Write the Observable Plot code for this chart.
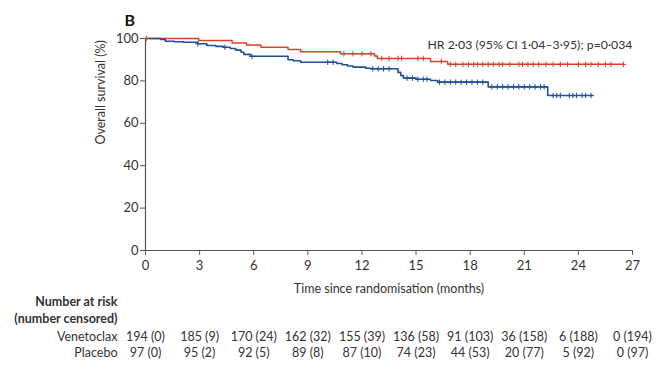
<!DOCTYPE html>
<html>
<head>
<meta charset="utf-8">
<script src="https://cdn.jsdelivr.net/npm/d3@7"></script>
<script src="https://cdn.jsdelivr.net/npm/@observablehq/plot@0.6"></script>
<style>
  html, body { margin: 0; padding: 0; background: #fff; }
  #chart svg { display: block; }
</style>
</head>
<body>
<div id="chart"></div>
<script>
// Kaplan-Meier step data (time in months, overall survival %)
const venTime = [0, 0.83, 1.1, 1.6, 2.1, 2.9, 3.4, 3.9, 4.3, 4.7, 5.0, 5.3, 5.45, 5.8, 7.9, 8.2, 8.6, 10.6, 10.9, 11.2, 11.5, 12.2, 12.5, 14.0, 14.15, 14.3, 15.0, 15.8, 16.2, 19.0, 22.3, 24.8];
const venSurv = [100, 99.5, 98.7, 98.5, 98.2, 97.5, 96.7, 96.3, 95.9, 95.3, 94.5, 93.5, 92.5, 91.6, 90.0, 89.5, 88.8, 88.2, 87.6, 87.0, 86.5, 86.0, 85.7, 84.0, 82.5, 81.3, 80.8, 80.2, 79.4, 77.2, 73.1, 73.1];
const plaTime = [0, 2.95, 4.8, 5.6, 6.4, 7.9, 8.6, 10.8, 12.7, 12.85, 15.8, 16.75, 26.5];
const plaSurv = [100, 99.0, 97.9, 96.9, 95.9, 94.8, 93.8, 92.8, 91.7, 90.6, 89.2, 87.8, 87.8];

// censoring times
const venCens = [2.9, 4.4, 5.9, 10.1, 10.4, 12.6, 12.9, 13.2, 13.5, 14.5, 14.8, 15.1, 15.4, 15.6, 16.3, 16.6, 16.9, 17.2, 17.5, 17.8, 18.1, 18.4, 18.7, 19.2, 19.5, 19.8, 20.1, 20.4, 20.7, 21.0, 21.3, 21.6, 21.9, 22.1, 22.6, 22.8, 23.0, 23.5, 23.7, 23.9, 24.2, 24.4, 24.7];
const plaCens = [0.05, 11.0, 11.5, 12.0, 12.5, 13.1, 13.5, 14.0, 14.2, 15.1, 15.4, 16.4, 16.9, 17.2, 17.6, 17.9, 18.2, 18.4, 18.7, 19.0, 19.3, 19.6, 19.8, 20.2, 20.7, 20.9, 21.2, 21.5, 21.8, 22.2, 22.6, 23.0, 23.4, 24.0, 24.4, 24.7, 25.1, 25.5, 25.8, 26.5];

// axis ticks
const xTicks = [0, 3, 6, 9, 12, 15, 18, 21, 24, 27];
const yTicks = [0, 20, 40, 60, 80, 100];

// number at risk (number censored)
const riskTimes = [0, 3, 6, 9, 12, 15, 18, 21, 24, 27];
const venAtRisk = [194, 185, 170, 162, 155, 136, 91, 36, 6, 0];
const venCensored = [0, 9, 24, 32, 39, 58, 103, 158, 188, 194];
const plaAtRisk = [97, 95, 92, 89, 87, 74, 44, 20, 5, 0];
const plaCensored = [0, 2, 5, 8, 10, 23, 53, 77, 92, 97];

const groups = ["Venetoclax", "Placebo"];
const colors = {Venetoclax: "#1f4f98", Placebo: "#d8402f"};
const textColor = "#333";
const axisColor = "#555";

function curve(times, surv, group) {
  return times.map((t, i) => ({t, s: surv[i], group}));
}
function survAt(times, surv, t) {
  let v = surv[0];
  for (let i = 0; i < times.length; i++) if (times[i] <= t) v = surv[i];
  return v;
}
const venCurve = curve(venTime, venSurv, "Venetoclax");
const plaCurve = curve(plaTime, plaSurv, "Placebo");
const venMarks = venCens.map(t => ({t, s: survAt(venTime, venSurv, t), group: "Venetoclax"}));
const plaMarks = plaCens.map(t => ({t, s: survAt(plaTime, plaSurv, t), group: "Placebo"}));

const riskRows = [];
riskTimes.forEach((t, i) => {
  riskRows.push({t, row: 0, label: `${venAtRisk[i]} (${venCensored[i]})`});
  riskRows.push({t, row: 1, label: `${plaAtRisk[i]} (${plaCensored[i]})`});
});

const font = "Lato, 'Open Sans', sans-serif";
const fs = 12.5;

const chart = Plot.plot({
  width: 660,
  height: 370,
  marginLeft: 145,
  marginRight: 28,
  marginTop: 38,
  marginBottom: 120,
  style: {fontFamily: font, fontSize: "12.5px", color: textColor, background: "#fff"},
  x: {domain: [0, 27]},
  y: {domain: [0, 100]},
  marks: [
    Plot.ruleX([0], {y1: 0, y2: 100, stroke: axisColor, strokeWidth: 1.2}),
    Plot.ruleY([0], {x1: 0, x2: 27, stroke: axisColor, strokeWidth: 1.2}),
    Plot.axisX({ticks: xTicks, tickSize: 5, tickPadding: 5, label: null, stroke: axisColor, fill: textColor, fontSize: 13}),
    Plot.axisY({ticks: yTicks, tickSize: 5, tickPadding: 2, label: null, stroke: axisColor, fill: textColor, fontSize: 13}),
    Plot.line(plaCurve, {x: "t", y: "s", curve: "step-after", stroke: colors.Placebo, strokeWidth: 1.5}),
    Plot.line(venCurve, {x: "t", y: "s", curve: "step-after", stroke: colors.Venetoclax, strokeWidth: 1.6}),
    Plot.dot(plaMarks, {x: "t", y: "s", symbol: "plus", r: 1.9, stroke: colors.Placebo, strokeWidth: 1}),
    Plot.dot(venMarks, {x: "t", y: "s", symbol: "plus", r: 1.9, stroke: colors.Venetoclax, strokeWidth: 1}),
    Plot.text(["B"], {frameAnchor: "top-left", dx: -21, dy: -24, text: d => d, fontWeight: "bold", fontSize: 16, fill: "#111", textAnchor: "start"}),
    Plot.text(["HR 2·03 (95% CI 1·04–3·95); p=0·034"], {frameAnchor: "top-right", dy: 2, text: d => d, fontSize: 12.3, fill: textColor, textAnchor: "end"}),
    Plot.text(["Overall survival (%)"], {frameAnchor: "left", dx: -45, rotate: -90, text: d => d, fontSize: fs, fill: textColor}),
    Plot.text(["Time since randomisation (months)"], {frameAnchor: "bottom", dy: 42, text: d => d, fontSize: fs, fill: textColor}),
    Plot.text(["Number at risk"], {frameAnchor: "bottom-left", dx: -28, dy: 55, text: d => d, fontSize: fs, fontWeight: "bold", fill: textColor, textAnchor: "end"}),
    Plot.text(["(number censored)"], {frameAnchor: "bottom-left", dx: -28, dy: 72, text: d => d, fontSize: fs, fontWeight: "bold", fill: textColor, textAnchor: "end"}),
    Plot.text(groups, {frameAnchor: "bottom-left", dx: -28, text: d => d, fontSize: fs, fill: textColor, textAnchor: "end", filter: d => d === "Venetoclax", dy: 90}),
    Plot.text(groups, {frameAnchor: "bottom-left", dx: -28, text: d => d, fontSize: fs, fill: textColor, textAnchor: "end", filter: d => d === "Placebo", dy: 106}),
    Plot.text(riskRows.filter(d => d.row === 0), {x: "t", frameAnchor: "bottom", dy: 90, text: "label", fontSize: fs, fill: textColor}),
    Plot.text(riskRows.filter(d => d.row === 1), {x: "t", frameAnchor: "bottom", dy: 106, text: "label", fontSize: fs, fill: textColor})
  ]
});
document.getElementById("chart").appendChild(chart);
</script>
</body>
</html>
